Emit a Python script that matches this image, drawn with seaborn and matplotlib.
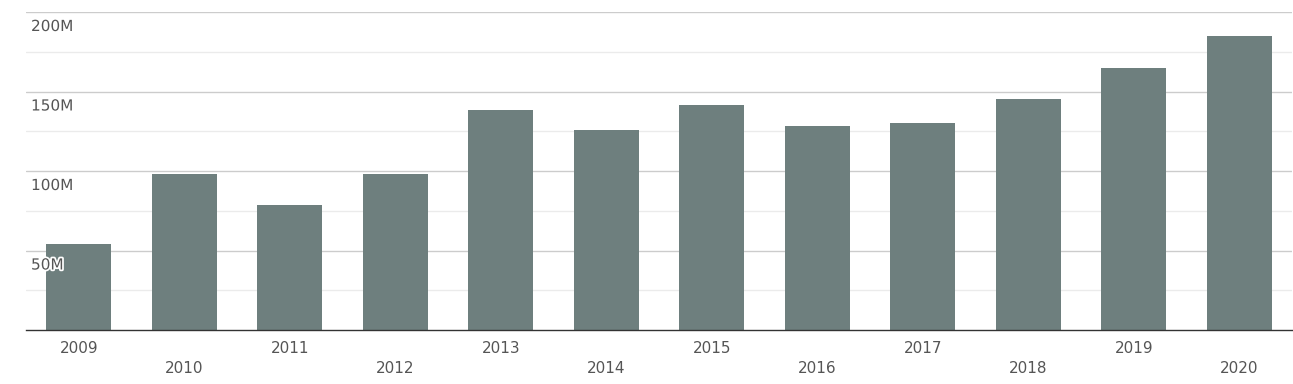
import matplotlib
matplotlib.use("Agg")
import matplotlib.pyplot as plt
import matplotlib.transforms as mtransforms
import matplotlib.patheffects as pe
import seaborn as sns
import pandas as pd

years = ["2009", "2010", "2011", "2012", "2013", "2014", "2015", "2016", "2017", "2018", "2019", "2020"]
values = [53.8, 98.4, 78.9, 97.8, 138.1, 125.5, 141.8, 128.0, 130.5, 145.0, 164.5, 185.2]  # millions
ytick_values = [50, 100, 150, 200]
ytick_labels = ["50M", "100M", "150M", "200M"]
minor_values = [25, 75, 125, 175]

sns.set_theme(style="white")
plt.rcParams['font.family'] = ['DejaVu Sans']

df = pd.DataFrame({"year": years, "value": values})

fig = plt.figure(figsize=(12.93, 3.84), dpi=100)
ax = fig.add_axes([26 / 1293, (384 - 330) / 384, (1292 - 26) / 1293, (330 - 12) / 384])

for v in minor_values:
    ax.axhline(v, color="#ebebeb", lw=1, zorder=0)
for v in ytick_values:
    ax.axhline(v, color="#cccccc", lw=1, zorder=0)

sns.barplot(data=df, x="year", y="value", color="#6e7f7e", saturation=1, width=0.62,
            linewidth=0, edgecolor="none", ax=ax, zorder=2)

ax.set_xlim(-0.5, len(years) - 0.5)
ax.set_ylim(0, 200)
ax.set_xlabel("")
ax.set_ylabel("")
ax.set_yticks([])
for s in ["top", "right", "left"]:
    ax.spines[s].set_visible(False)
ax.spines["bottom"].set_color("#333333")
ax.spines["bottom"].set_linewidth(1)
ax.spines["bottom"].set_zorder(3)

ax.tick_params(axis="x", length=0, labelsize=11, labelcolor="#555555")
for i, t in enumerate(ax.xaxis.get_major_ticks()):
    t.set_pad(8 if i % 2 == 0 else 22)

base = mtransforms.blended_transform_factory(ax.transAxes, ax.transData)
off = mtransforms.offset_copy(base, fig=fig, x=5, y=-7, units="dots")
for v, lab in zip(ytick_values, ytick_labels):
    ax.text(0, v, lab, transform=off, ha="left", va="top", fontsize=11, color="#555555", zorder=4,
            path_effects=[pe.withStroke(linewidth=2.5, foreground="white")])

fig.savefig("out.png", dpi=100)
